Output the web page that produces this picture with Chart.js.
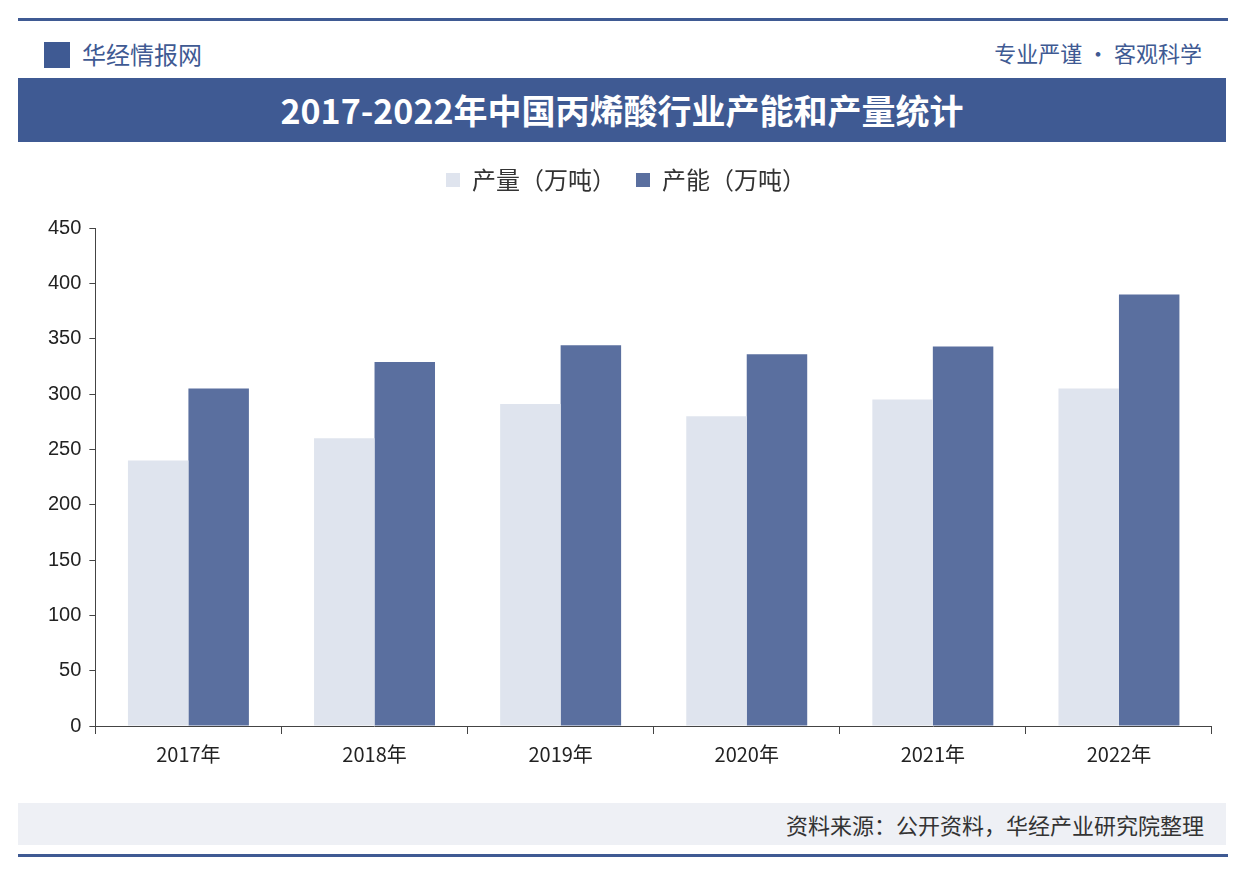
<!DOCTYPE html>
<html>
<head>
<meta charset="utf-8">
<script src="https://cdn.jsdelivr.net/npm/chart.js@4.4.0/dist/chart.umd.min.js"></script>
<style>
body { margin:0; width:1246px; height:872px; background:#fff; font-family:"Noto Sans CJK SC","Noto Sans",sans-serif; position:relative; overflow:hidden; }
#topline { position:absolute; left:18px; right:18px; top:18px; height:3px; background:#3f5a93; }
#logo { position:absolute; left:44px; top:36px; font-size:24px; color:#3f5a93; }
#logo span.ic { display:inline-block; width:26px; height:26px; background:#3f5a93; vertical-align:-4px; margin-right:12px; }
#slogan { position:absolute; right:44px; top:36px; font-size:22px; color:#3f5a93; }
#banner { position:absolute; left:18px; right:20px; top:78px; height:64px; background:#3f5a93; color:#fff; font-size:34px; font-weight:bold; text-align:center; line-height:64px; font-family:"Noto Sans CJK SC",serif; }
#wrap { position:absolute; left:20px; top:148px; width:1192px; height:626px; }
#source { position:absolute; left:18px; right:20px; top:803px; height:42px; background:#eef0f5; font-size:22px; color:#333; text-align:right; line-height:42px; padding-right:22px; box-sizing:border-box; }
#botline { position:absolute; left:18px; right:18px; top:854px; height:3px; background:#3f5a93; }
</style>
</head>
<body>
<div id="topline"></div>
<div id="logo"><span class="ic"></span>华经情报网</div>
<div id="slogan">专业严谨 • 客观科学</div>
<div id="banner">2017-2022年中国丙烯酸行业产能和产量统计</div>
<div id="wrap"><canvas id="chart"></canvas></div>
<div id="source">资料来源：公开资料，华经产业研究院整理</div>
<div id="botline"></div>
<script>
var years = ['2017年', '2018年', '2019年', '2020年', '2021年', '2022年'];
var production = [240, 260, 291, 280, 295, 305];
var capacity = [305, 329, 344, 336, 343, 390];

var legendSpace = {
    id: 'legendSpace',
    beforeInit: function (chart) {
        var fit = chart.legend.fit;
        chart.legend.fit = function () {
            fit.bind(chart.legend)();
            this.height += 26;
        };
    }
};

var ctx = document.getElementById('chart');
new Chart(ctx, {
    type: 'bar',
    data: {
        labels: years,
        datasets: [
            { label: '产量（万吨）', data: production, backgroundColor: '#dfe4ee' },
            { label: '产能（万吨）', data: capacity, backgroundColor: '#5a6f9f' }
        ]
    },
    plugins: [legendSpace],
    options: {
        responsive: true,
        maintainAspectRatio: false,
        animation: false,
        datasets: { bar: { categoryPercentage: 0.65, barPercentage: 1 } },
        layout: { padding: { left: 20, right: 0, top: 0, bottom: 0 } },
        plugins: {
            tooltip: { enabled: false },
            legend: {
                labels: { boxWidth: 14, boxHeight: 14, padding: 20, color: '#333', font: { size: 24, family: 'Noto Sans CJK SC' } }
            }
        },
        scales: {
            x: {
                grid: { offset: true, drawOnChartArea: false, tickLength: 8, color: '#444' },
                border: { color: '#444' },
                ticks: { color: '#222', padding: 8, font: { size: 20, family: 'Noto Sans CJK SC' } }
            },
            y: {
                min: 0, max: 450,
                ticks: { stepSize: 50, color: '#222', padding: 8, font: { size: 20, family: 'Liberation Sans' } },
                grid: { drawOnChartArea: false, tickLength: 6, color: '#444' },
                border: { color: '#444' }
            }
        }
    }
});
</script>
</body>
</html>
